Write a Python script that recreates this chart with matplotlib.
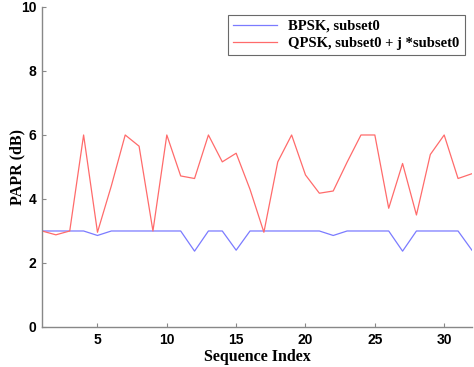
import matplotlib
matplotlib.use("Agg")
import matplotlib.pyplot as plt

idx = list(range(1, 33))
bpsk = [3, 3, 3, 3, 2.86, 3, 3, 3, 3, 3, 3, 2.37, 3, 3, 2.4, 3,
        3, 3, 3, 3, 3, 2.86, 3, 3, 3, 3, 2.37, 3, 3, 3, 3, 2.4]
qpsk = [3.0, 2.88, 3.0, 6.0, 2.96, 4.41, 6.0, 5.65, 3.0, 6.0, 4.72, 4.64, 6.0, 5.16, 5.43, 4.3,
        2.96, 5.16, 6.0, 4.75, 4.18, 4.25, 5.15, 6.0, 6.0, 3.71, 5.11, 3.5, 5.39, 6.0, 4.64, 4.79]
xticks = [5, 10, 15, 20, 25, 30]
yticks = [0, 2, 4, 6, 8, 10]
labels = ["BPSK, subset0", "QPSK, subset0 + j *subset0"]

fig = plt.figure(figsize=(4.74, 3.67), dpi=100)
ax = fig.add_axes([0.0886, 0.109, 0.907, 0.872])
ax.plot(idx, bpsk, color="#7b7bff", lw=0.9, label=labels[0])
ax.plot(idx, qpsk, color="#ff6b6b", lw=0.9, label=labels[1])
ax.set_xlim(1, 32)
ax.set_ylim(0, 10)
ax.set_xticks(xticks)
ax.set_yticks(yticks)
for s in ["top", "right"]:
    ax.spines[s].set_visible(False)
for s in ["left", "bottom"]:
    ax.spines[s].set_color("#888888")
    ax.spines[s].set_linewidth(1.0)
ax.tick_params(direction="in", length=3, color="#888888", width=0.8, pad=4)
for lab in ax.get_xticklabels() + ax.get_yticklabels():
    lab.set_fontfamily("Liberation Sans")
    lab.set_fontweight("bold")
    lab.set_fontsize(10)
ax.set_xlabel("Sequence Index", fontfamily="Liberation Serif", fontweight="bold", fontsize=11.5)
ax.set_ylabel("PAPR (dB)", fontfamily="Liberation Serif", fontweight="bold", fontsize=11.5)
ax.xaxis.set_label_coords(0.5, -0.094)
ax.yaxis.set_label_coords(-0.058, 0.5)
ax.xaxis.label.set_va("center")
ax.yaxis.label.set_va("center")
leg = ax.legend(loc="upper right", bbox_to_anchor=(0.99, 0.985),
                prop={"family": "Liberation Serif", "weight": "bold", "size": 10.5},
                frameon=True, fancybox=False, edgecolor="#444444", handlelength=3.0,
                borderpad=0.35, labelspacing=0.25, handletextpad=0.8, borderaxespad=0.2)
leg.get_frame().set_linewidth(0.8)
fig.savefig("out.png", dpi=100)
